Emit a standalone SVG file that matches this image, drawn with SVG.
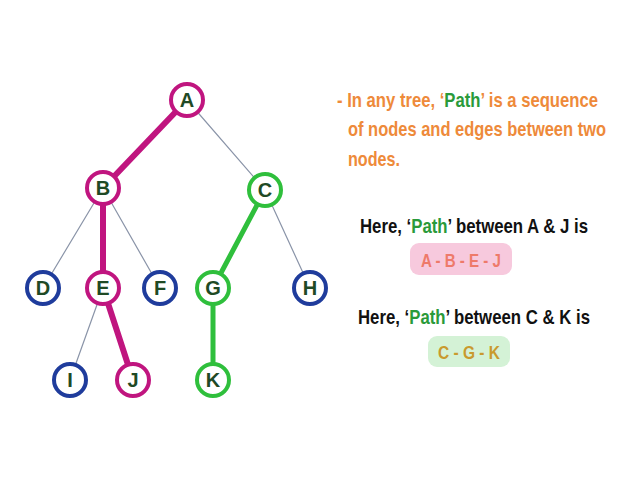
<svg xmlns="http://www.w3.org/2000/svg" width="638" height="478" viewBox="0 0 638 478">
<style>
.n circle{fill:#fff;stroke-width:4}
.n text{font-family:"Liberation Sans",sans-serif;font-weight:bold;font-size:20px;fill:#1f4a25;text-anchor:middle}
.m circle{stroke:#c0157f}.g circle{stroke:#2fbf3c}.b circle{stroke:#1f3c9c}
.t{font-family:"Liberation Sans",sans-serif;font-weight:bold;font-size:21px}
</style>
<rect width="638" height="478" fill="#fff"/>
<g id="connectors" stroke-linecap="round">
<line x1="187" y1="100" x2="265" y2="190" stroke="#8a94a8" stroke-width="1.2"/>
<line x1="103" y1="188" x2="43" y2="288" stroke="#8a94a8" stroke-width="1.2"/>
<line x1="103" y1="188" x2="160" y2="288" stroke="#8a94a8" stroke-width="1.2"/>
<line x1="265" y1="190" x2="310" y2="288" stroke="#8a94a8" stroke-width="1.2"/>
<line x1="103" y1="288" x2="70" y2="380" stroke="#8a94a8" stroke-width="1.2"/>
<line x1="187" y1="100" x2="103" y2="188" stroke="#c0157f" stroke-width="6"/>
<line x1="103" y1="188" x2="103" y2="288" stroke="#c0157f" stroke-width="6"/>
<line x1="103" y1="288" x2="133" y2="380" stroke="#c0157f" stroke-width="6"/>
<line x1="265" y1="190" x2="213" y2="288" stroke="#2fbf3c" stroke-width="5"/>
<line x1="213" y1="288" x2="213" y2="380" stroke="#2fbf3c" stroke-width="5"/>
</g>
<g id="A" class="n m"><circle cx="187" cy="100" r="16"/><text x="187" y="107">A</text></g>
<g id="B" class="n m"><circle cx="103" cy="188" r="16"/><text x="103" y="195">B</text></g>
<g id="C" class="n g"><circle cx="265" cy="190" r="16"/><text x="265" y="197">C</text></g>
<g id="D" class="n b"><circle cx="43" cy="288" r="16"/><text x="43" y="295">D</text></g>
<g id="E" class="n m"><circle cx="103" cy="288" r="16"/><text x="103" y="295">E</text></g>
<g id="F" class="n b"><circle cx="160" cy="288" r="16"/><text x="160" y="295">F</text></g>
<g id="G" class="n g"><circle cx="213" cy="288" r="16"/><text x="213" y="295">G</text></g>
<g id="H" class="n b"><circle cx="310" cy="288" r="16"/><text x="310" y="295">H</text></g>
<g id="I" class="n b"><circle cx="70" cy="380" r="16"/><text x="70" y="387">I</text></g>
<g id="J" class="n m"><circle cx="133" cy="380" r="16"/><text x="133" y="387">J</text></g>
<g id="K" class="n g"><circle cx="213" cy="380" r="16"/><text x="213" y="387">K</text></g>
<g id="text" class="t">
<text x="337" y="107" fill="#ee8a3a" textLength="261" lengthAdjust="spacingAndGlyphs">- In any tree, ‘<tspan fill="#2a9a3a">Path</tspan>’ is a sequence</text>
<text x="348" y="136" fill="#ee8a3a" textLength="258" lengthAdjust="spacingAndGlyphs">of nodes and edges between two</text>
<text x="348" y="166" fill="#ee8a3a" textLength="52" lengthAdjust="spacingAndGlyphs">nodes.</text>
<text x="360" y="233" fill="#111" textLength="228" lengthAdjust="spacingAndGlyphs">Here, ‘<tspan fill="#2a9a3a">Path</tspan>’ between A &amp; J is</text>
<rect x="410" y="243" width="102" height="32" rx="9" fill="#f7c9dd"/>
<text x="461" y="267" fill="#ee7a6a" text-anchor="middle" font-size="18" textLength="80" lengthAdjust="spacingAndGlyphs">A - B - E - J</text>
<text x="358" y="324" fill="#111" textLength="232" lengthAdjust="spacingAndGlyphs">Here, ‘<tspan fill="#2a9a3a">Path</tspan>’ between C &amp; K is</text>
<rect x="428" y="336" width="82" height="31" rx="9" fill="#d4f2d6"/>
<text x="469" y="359" fill="#c99a2e" text-anchor="middle" font-size="18" textLength="62" lengthAdjust="spacingAndGlyphs">C - G - K</text>
</g>
</svg>
